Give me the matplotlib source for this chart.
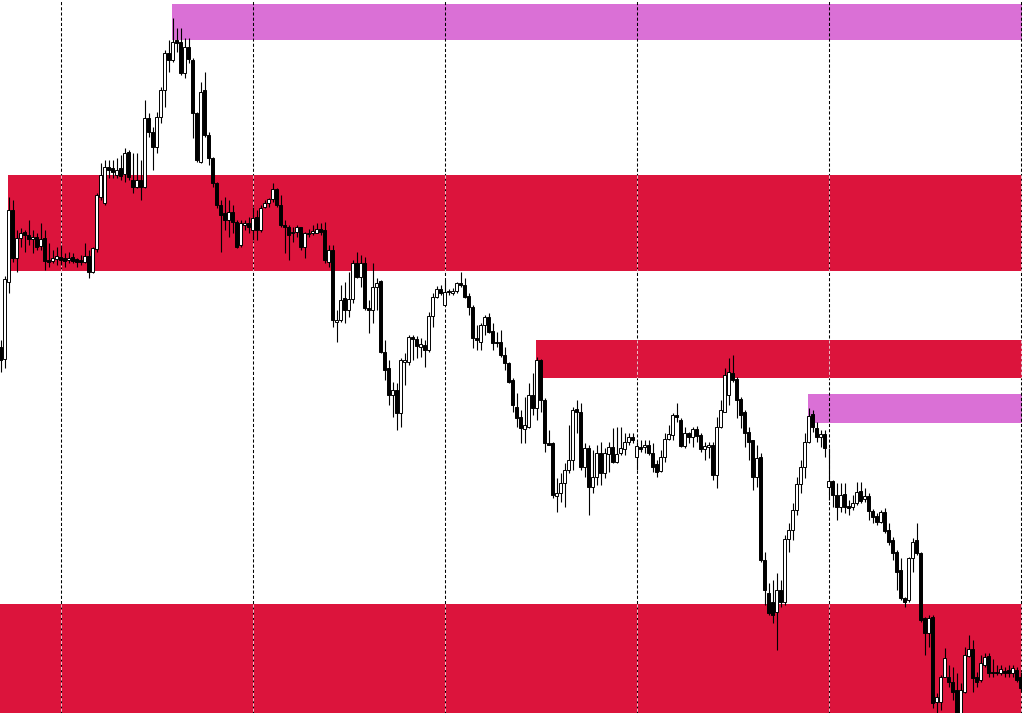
import matplotlib
matplotlib.use("Agg")
import matplotlib.pyplot as plt
from matplotlib.patches import Rectangle
import numpy as np

# Price levels in chart units (axis is inverted: smaller value = higher price)
opens = [347,359,282,210,258,238,232,235,239,237,
         246,238,260,261,259,257,258,260,257,259,
         260,262,256,272,249,197,203,167,168,175,
         168,174,152,180,187,180,187,118,132,147,
         117,90,53,60,40,42,73,47,60,113,
         162,90,135,158,183,205,213,220,212,222,
         245,225,223,230,217,230,207,203,199,189,
         205,225,227,233,232,227,247,234,233,233,
         229,230,262,250,322,320,298,310,299,263,
         277,263,308,310,287,281,352,368,395,390,
         413,362,362,337,339,347,345,350,316,297,
         289,305,291,293,291,283,285,296,307,338,
         342,325,317,331,342,342,355,363,380,407,
         417,429,427,395,408,360,400,443,443,496,
         493,483,470,460,409,412,467,448,487,477,
         453,473,454,447,462,453,449,442,437,457,
         447,447,445,453,464,471,457,439,435,415,
         420,446,433,437,429,435,449,447,445,475,
         427,412,395,373,379,399,412,432,440,477,
         457,560,593,602,612,590,602,539,530,510,
         484,467,442,414,428,437,434,487,481,495,
         507,494,506,507,503,491,499,496,511,516,
         522,512,530,540,552,570,598,600,558,540,
         553,618,633,617,702,702,677,677,682,690,
         715,692,656,649,677,680,665,656,672,672,
         673,671,670,673,670,677]
closes = [360,279,210,258,238,233,235,239,237,247,
          239,261,262,258,256,260,261,258,261,262,
          262,256,272,248,195,175,167,170,172,170,
          176,153,177,187,180,187,118,132,147,117,
          90,53,60,42,43,73,47,59,113,160,
          92,135,158,183,205,215,220,212,222,247,
          223,223,227,218,230,208,203,199,189,205,
          225,227,235,232,227,247,233,233,231,229,
          232,260,250,320,320,300,310,299,263,277,
          263,308,310,287,283,352,370,395,390,413,
          360,360,337,339,346,344,350,316,297,289,
          293,292,292,291,283,285,297,307,338,340,
          325,317,332,343,343,355,363,382,405,418,
          428,425,395,408,360,400,443,445,495,493,
          483,470,460,410,412,467,448,487,477,453,
          473,453,447,462,454,448,442,437,440,446,
          449,445,453,467,472,457,439,434,415,417,
          446,433,437,429,436,449,446,445,475,427,
          410,375,372,380,400,415,433,442,477,458,
          560,590,613,615,590,602,539,530,510,484,
          467,442,416,427,437,434,448,481,495,507,
          495,507,508,503,492,501,496,511,517,522,
          512,531,542,553,572,598,602,558,542,553,
          620,633,618,703,697,677,658,682,692,715,
          690,655,649,678,682,663,657,673,673,673,
          669,673,673,668,680,688]
highs = [340,276,197,200,230,228,230,220,230,233,
         223,230,243,250,247,245,253,252,253,258,
         255,243,250,247,193,163,160,160,160,158,
         155,148,150,153,153,160,100,113,127,112,
         87,50,40,18,28,28,38,38,58,112,
         82,72,132,157,182,200,197,200,205,220,
         220,220,217,207,210,205,200,198,183,188,
         195,220,225,227,225,227,232,229,225,223,
         223,222,245,245,310,285,282,272,260,252,
         255,257,300,263,278,280,340,360,382,383,
         358,353,335,335,336,338,340,312,293,286,
         285,280,289,288,282,272,278,293,305,325,
         323,315,313,323,332,330,347,362,378,393,
         410,397,383,373,357,359,398,430,442,478,
         473,463,425,407,400,403,443,445,450,445,
         442,448,442,428,427,427,433,433,433,442,
         440,440,440,443,460,450,433,425,413,403,
         418,427,432,427,426,433,442,442,442,417,
         400,368,358,355,377,397,410,427,440,445,
         453,552,583,580,573,580,535,523,503,477,
         460,433,408,410,422,430,430,448,480,483,
         483,483,500,495,482,482,488,493,509,513,
         510,508,523,537,550,558,597,557,538,523,
         552,617,615,615,693,675,648,665,667,673,
         683,647,635,640,672,655,653,653,659,665,
         665,667,665,665,667,672]
lows = [372,368,293,262,272,247,252,245,253,250,
        250,270,267,263,265,265,267,263,263,267,
        265,263,278,273,252,200,205,178,178,178,
        180,182,180,193,188,200,188,137,170,153,
        123,107,72,62,52,75,78,63,138,162,
        163,137,165,187,208,252,230,237,233,248,
        247,230,233,240,240,232,208,207,202,207,
        227,253,260,242,237,250,258,237,235,233,
        235,263,267,327,342,322,323,317,303,278,
        287,310,333,323,310,353,380,405,417,430,
        427,385,365,360,358,357,367,352,327,298,
        295,305,295,295,293,287,298,315,348,350,
        350,335,333,350,347,357,370,383,412,427,
        443,443,428,415,420,412,452,445,498,512,
        502,507,473,470,433,470,477,515,493,485,
        485,478,472,463,463,455,455,445,443,470,
        452,453,455,472,477,472,462,440,440,422,
        447,448,443,447,442,452,460,458,480,488,
        428,412,405,382,418,428,447,460,490,487,
        562,605,615,623,650,607,605,552,540,515,
        493,478,443,432,442,447,457,500,507,520,
        512,513,515,510,505,503,502,520,523,525,
        523,533,545,560,590,600,607,602,572,555,
        622,655,647,708,715,710,677,687,700,715,
        715,693,657,692,687,682,667,677,677,675,
        675,677,677,677,682,692]

# Supply/demand zones: (start candle index, top level, bottom level, colour)
zone_start = [43, 2, 134, 202, 0]
zone_top = [4, 175, 340, 394, 604]
zone_bottom = [40, 271, 378, 423, 713]
zone_color = ["#DA70D6", "#DC143C", "#DC143C", "#DA70D6", "#DC143C"]

# Vertical grid at candle indices
grid_idx = [15, 63, 111, 159, 207, 255]

W, H = 1022, 713
fig = plt.figure(figsize=(W / 100, H / 100), dpi=100)
ax = fig.add_axes([0, 0, 1, 1])
ax.set_xlim(0, W)
ax.set_ylim(H, 0)
ax.axis("off")
fig.patch.set_facecolor("white")

step = 4.0
n = len(opens)
xs = np.arange(n) * step + 0.5

# zones
for s, t, b, c in zip(zone_start, zone_top, zone_bottom, zone_color):
    x0 = s * step
    ax.add_patch(Rectangle((x0, t), W - x0, b - t, facecolor=c, edgecolor="none", zorder=1))

# grid lines
for gi in grid_idx:
    gx = gi * step + 1
    ax.axvline(gx, color="black", lw=0.75, ls=(0, (3, 2)), zorder=2)
    for s, t, b, c in zip(zone_start, zone_top, zone_bottom, zone_color):
        if c == "#DC143C" and gx >= s * step:
            ax.vlines(gx, t, b, color="#f3b9c5", lw=0.75, linestyles=(0, (3, 2)), zorder=2.5)

o = np.array(opens, float)
c = np.array(closes, float)
h = np.array(highs, float)
l = np.array(lows, float)

# wicks
ax.vlines(xs, h, l, color="black", lw=0.8, zorder=3)

# bodies
top = np.minimum(o, c)
height = np.maximum(np.abs(o - c), 1.0)
bull = c < o  # closes higher (smaller value on inverted axis)
ax.bar(xs[bull], height[bull], bottom=top[bull], width=2.4, color="white",
       edgecolor="black", linewidth=0.7, zorder=4)
ax.bar(xs[~bull], height[~bull], bottom=top[~bull], width=2.4, color="black",
       edgecolor="black", linewidth=0.7, zorder=4)

fig.savefig("out.png", dpi=100)
